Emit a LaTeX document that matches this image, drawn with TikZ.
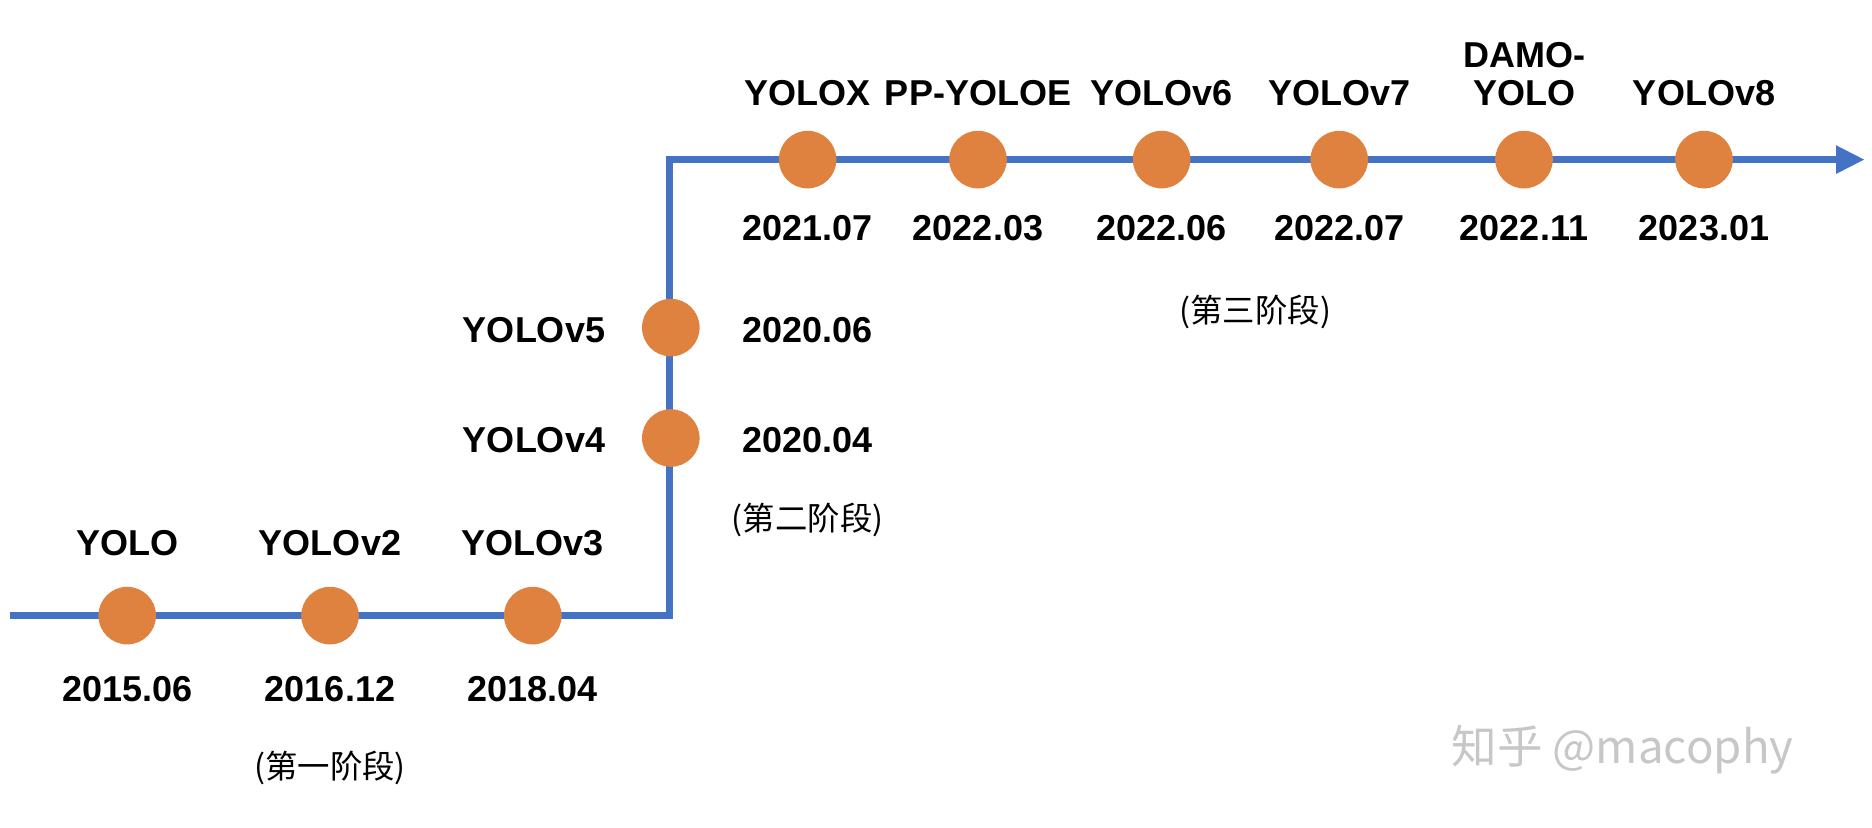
\documentclass[tikz,border=0pt]{standalone}
\usepackage{fontspec}
\setmainfont{Liberation Sans}
\newfontfamily\cjk{Noto Sans CJK SC}
\usetikzlibrary{arrows.meta}
\definecolor{lineblue}{HTML}{4472C4}
\definecolor{dotorange}{HTML}{E0823F}
\begin{document}
\begin{tikzpicture}[x=1pt,y=-1pt,
  dot/.style={circle,fill=dotorange,minimum width=48pt,minimum height=48pt,inner sep=0pt},
  lbl/.style={font=\fontsize{30}{32}\selectfont\bfseries,align=center},
  stage/.style={font=\cjk\fontsize{27}{30}\selectfont}]
\useasboundingbox (0,0) rectangle (1560,690);
\coordinate (s) at (8,513);
\coordinate (c1) at (558,513);
\coordinate (c2) at (558,133);
\coordinate (e) at (1554,133);
\draw[lineblue,line width=6pt,-{Triangle[length=24pt,width=22pt]}] (s) -- (c1) -- (c2) -- (e);
% bottom
\foreach \n/\x/\a/\d in {a/106/YOLO/2015.06,b/275/YOLOv2/2016.12,c/444/YOLOv3/2018.04}{
  \node[dot] (\n) at (\x,513) {};
  \node[lbl] (\n t) at (\x,453) {\a};
  \node[lbl] (\n d) at (\x,574) {\d};
}
\node[stage] (st1) at (275,640) {(第一阶段)};
% vertical
\node[dot] (v5) at (559,273) {};
\node[lbl] (v5t) at (445,275) {YOLOv5};
\node[lbl] (v5d) at (673,275) {2020.06};
\node[dot] (v4) at (559,365) {};
\node[lbl] (v4t) at (445,367) {YOLOv4};
\node[lbl] (v4d) at (673,367) {2020.04};
\node[stage] (st2) at (673,433) {(第二阶段)};
% top
\foreach \n/\x/\a/\d in {x/673/YOLOX/2021.07,p/815/PP-YOLOE/2022.03,s6/968/YOLOv6/2022.06,s7/1116/YOLOv7/2022.07,dm/1270/{DAMO-\\YOLO}/2022.11,s8/1420/YOLOv8/2023.01}{
  \node[dot] (\n) at (\x,133) {};
  \node[lbl,anchor=base] (\n t) at (\x,88) {\a};
  \node[lbl] (\n d) at (\x,190) {\d};
}
\node[stage] (st3) at (1046,260) {(第三阶段)};
\node[font=\cjk\fontsize{38}{40}\selectfont,text=black!22] (wm) at (1352,625) {知乎 @macophy};
\end{tikzpicture}
\end{document}
